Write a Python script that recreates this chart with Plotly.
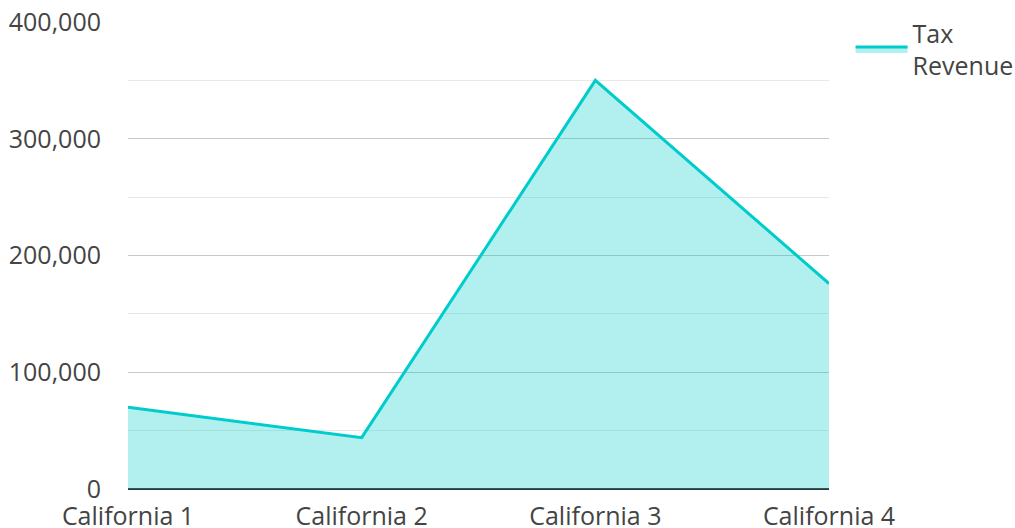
import plotly.graph_objects as go

categories = ["California 1", "California 2", "California 3", "California 4"]
tax_revenue = [70000, 44000, 350000, 176000]
series_name = "Tax<br>Revenue"

fig = go.Figure()
fig.add_trace(go.Scatter(
    x=categories, y=tax_revenue, name=series_name,
    mode="lines", fill="tozeroy",
    line=dict(color="#00CCCC", width=3),
    fillcolor="rgba(0,204,204,0.3)",
    showlegend=True,
))

fig.update_layout(
    width=1015, height=528,
    margin=dict(l=128, r=186, t=22, b=39, pad=0, autoexpand=False),
    paper_bgcolor="white", plot_bgcolor="white",
    font=dict(family="Open Sans", size=25, color="#444444"),
    legend=dict(xref="container", yref="container", x=0.838, y=0.981,
                xanchor="left", yanchor="top",
                font=dict(size=25, color="#444444"), itemwidth=52,
                tracegroupgap=0),
    xaxis=dict(range=[0, 3], showgrid=False, showline=False, zeroline=False,
               automargin=False,
               ticks="", ticklabelstandoff=10, tickfont=dict(size=25)),
    yaxis=dict(range=[0, 400000], dtick=100000, tickformat=",d",
               automargin=False,
               showgrid=True, gridcolor="#c8c8c8", gridwidth=1.3,
               zeroline=True, zerolinecolor="#333333", zerolinewidth=2,
               showline=False, ticks="", ticklabelstandoff=26,
               minor=dict(dtick=50000, showgrid=True, gridcolor="#e8e8e8", gridwidth=1.3),
               tickfont=dict(size=25)),
)

fig.write_html("out.html", config={"displayModeBar": False},
               post_script="document.body.style.margin='0';")
